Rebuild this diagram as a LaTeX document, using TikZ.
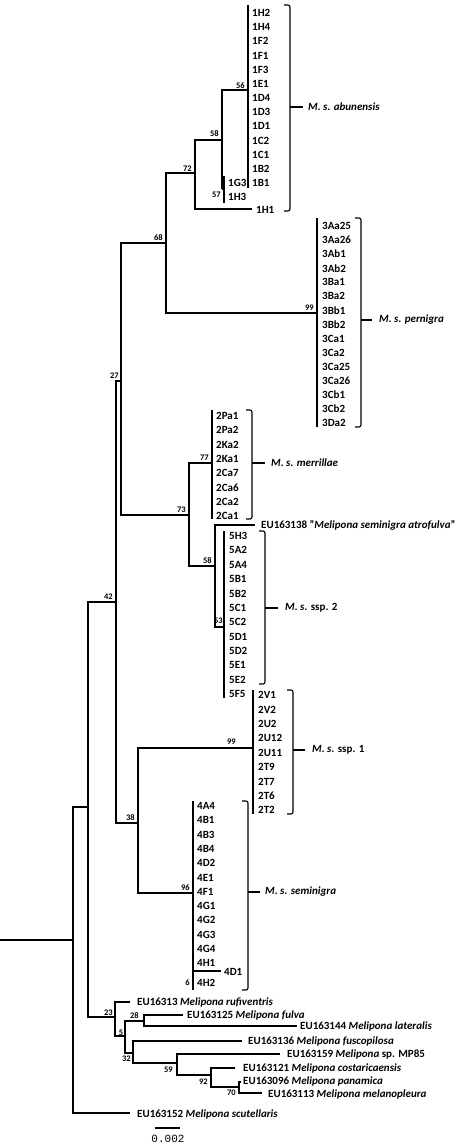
\documentclass[tikz,border=0pt]{standalone}
\usepackage{fontspec}
\setmainfont{Carlito}
\newfontfamily\scalefont{Liberation Mono}
\begin{document}
\begin{tikzpicture}[x=1bp,y=-1bp,
  br/.style={line width=1.1bp},
  thk/.style={line width=1.9bp},
  leaf/.style={anchor=west,inner sep=0pt,font=\fontsize{11bp}{12bp}\selectfont\bfseries},
  sp/.style={anchor=west,inner sep=0pt,font=\fontsize{11bp}{12bp}\selectfont\bfseries},
  clade/.style={anchor=west,inner sep=0pt,font=\fontsize{11bp}{12bp}\selectfont\bfseries\itshape},
  sup/.style={inner sep=0pt,font=\fontsize{8.5bp}{9bp}\selectfont\bfseries},
  brk/.style={line width=1.1bp,rounded corners=2bp}]
\useasboundingbox (0,0) rectangle (474,1145);

% ---------- internal nodes ----------
\coordinate (root) at (73,940);
\coordinate (rootL) at (0,940);

% ---------- M. s. abunensis ----------
\foreach \t [count=\i from 0] in {1H2,1H4,1F2,1F1,1F3,1E1,1D4,1D3,1D1,1C2,1C1,1B2,1B1}
  \node[leaf] (a\t) at (252,{13+14.17*\i}) {\t};
\draw[thk] (248,5) -- (248,188);
\node[leaf] (a1G3) at (228,183) {1G3};
\node[leaf] (a1H3) at (228,197) {1H3};
\draw[thk] (224,176) -- (224,203);
\draw[br] (222,189) -- (224,189);
\draw[br] (248,90) -| (222,189);
\draw[br] (222,140) -| (195,209) -- (252,209);
\node[leaf] (a1H1) at (256,210) {1H1};
\draw[brk] (284,5) -- (290,5) -- (290,211) -- (284,211);
\draw[br] (290,107) -- (303,107);
\node[clade] (abun) at (308,107) {M. s. abunensis};
\node[sup,anchor=south east] at (245,89) {56};
\node[sup,anchor=south east] at (219,137) {58};
\node[sup,anchor=south east] at (221,198) {57};
\node[sup,anchor=south east] at (192,172) {72};

% ---------- M. s. pernigra ----------
\foreach \t [count=\i from 0] in {3Aa25,3Aa26,3Ab1,3Ab2,3Ba1,3Ba2,3Bb1,3Bb2,3Ca1,3Ca2,3Ca25,3Ca26,3Cb1,3Cb2,3Da2}
  \node[leaf] (p\t) at (322,{226+14.07*\i}) {\t};
\draw[thk] (317,218) -- (317,427);
\draw[brk] (355,218) -- (361,218) -- (361,427) -- (355,427);
\draw[br] (361,320) -- (372,320);
\node[clade] (pern) at (379,320) {M. s. pernigra};
\draw[br] (195,173) -| (166,313) -- (317,313);
\node[sup,anchor=south east] at (314,311) {99};
\node[sup,anchor=south east] at (163,241) {68};

% ---------- M. s. merrillae ----------
\foreach \t [count=\i from 0] in {2Pa1,2Pa2,2Ka2,2Ka1,2Ca7,2Ca6,2Ca2,2Ca1}
  \node[leaf] (m\t) at (216,{416+14.29*\i}) {\t};
\draw[thk] (212,410) -- (212,519);
\draw[brk] (246,410) -- (252,410) -- (252,519) -- (246,519);
\draw[br] (252,463) -- (265,463);
\node[clade] (merr) at (271,463) {M. s. merrillae};
\node[sup,anchor=south east] at (209,461) {77};

% ---------- EU163138 and M. s. ssp. 2 ----------
\node[sp] (atro) at (261,525) {EU163138 "\textit{Melipona seminigra atrofulva}"};
\foreach \t [count=\i from 0] in {5H3,5A2,5A4,5B1,5B2,5C1,5C2,5D1,5D2,5E1,5E2,5F5}
  \node[leaf] (s\t) at (229,{536+14.36*\i}) {\t};
\draw[thk] (224,531) -- (224,698);
\draw[thk] (255,525) -| (215,627) -- (224,627);
\draw[brk] (259,531) -- (265,531) -- (265,684) -- (259,684);
\draw[br] (265,608) -- (278,608);
\node[clade] (ssp2) at (285,608) {M. s. \upshape ssp. 2};
\node[sup,anchor=south east] at (212,564) {58};
\node[sup,anchor=east] at (223,621) {53};
\draw[br] (212,463) -| (189,566) -- (215,566);
\node[sup,anchor=south east] at (186,513) {73};

% ---------- M. s. ssp. 1 ----------
\foreach \t [count=\i from 0] in {2V1,2V2,2U2,2U12,2U11,2T9,2T7,2T6,2T2}
  \node[leaf] (u\t) at (258,{695+14.4*\i}) {\t};
\draw[thk] (253,690) -- (253,814);
\draw[brk] (287,690) -- (293,690) -- (293,814) -- (287,814);
\draw[br] (293,750) -- (305,750);
\node[clade] (ssp1) at (312,750) {M. s. \upshape ssp. 1};
\node[sup,anchor=south east] at (236,745) {99};

% ---------- M. s. seminigra ----------
\foreach \t [count=\i from 0] in {4A4,4B1,4B3,4B4,4D2,4E1,4F1,4G1,4G2,4G3,4G4,4H1}
  \node[leaf] (g\t) at (197,{806+14.3*\i}) {\t};
\node[leaf] (g4H2) at (197,983) {4H2};
\node[leaf] (g4D1) at (224,972) {4D1};
\draw[thk] (193,801) -- (193,990);
\draw[br] (193,971) -- (221,971);
\draw[brk] (242,801) -- (248,801) -- (248,990) -- (242,990);
\draw[br] (248,892) -- (260,892);
\node[clade] (semi) at (265,892) {M. s. seminigra};
\node[sup,anchor=south east] at (190,891) {96};
\node[sup,anchor=east] at (190,983) {6};

% ---------- backbone ----------
\draw[br] (253,748) -| (138,893) -- (193,893);
\node[sup,anchor=south east] at (135,821) {38};
\draw[br] (166,243) -| (121,515) -- (189,515);
\node[sup,anchor=south east] at (119,379) {27};
\draw[br] (121,381) -| (116,823) -- (138,823);
\node[sup,anchor=south east] at (113,600) {42};
\draw[br] (116,602) -| (88,1017) -- (115,1017);
\draw[br] (88,807) -| (root) |- (130,1113);
\draw[br] (rootL) -- (root);

% ---------- outgroups ----------
\node[sp] (ruf) at (137,1002) {EU16313 \textit{Melipona rufiventris}};
\node[sp] (ful) at (187,1015) {EU163125 \textit{Melipona fulva}};
\node[sp] (lat) at (300,1026) {EU163144 \textit{Melipona lateralis}};
\node[sp] (fus) at (248,1041) {EU163136 \textit{Melipona fuscopilosa}};
\node[sp] (mp) at (287,1054) {EU163159 \textit{Melipona} sp. MP85};
\node[sp] (cos) at (243,1068) {EU163121 \textit{Melipona costaricaensis}};
\node[sp] (pan) at (243,1081) {EU163096 \textit{Melipona panamica}};
\node[sp] (mel) at (268,1094) {EU163113 \textit{Melipona melanopleura}};
\node[sp] (scu) at (137,1114) {EU163152 \textit{Melipona scutellaris}};

\draw[br] (130,1002) -| (115,1036) -- (125,1036);
\draw[br] (144,1021) -| (125,1053) -- (133,1053);
\draw[br] (183,1015) -| (144,1026) -- (297,1026);
\draw[br] (242,1041) -| (133,1063) -- (177,1063);
\draw[br] (280,1054) -| (177,1075) -- (211,1075);
\draw[br] (235,1068) -| (211,1087) -- (239,1087);
\draw[br] (241,1082) -| (239,1093) -- (262,1093);
\node[sup,anchor=south east] at (113,1016) {23};
\node[sup,anchor=south east] at (139,1019) {28};
\node[sup] at (121,1033) {5};
\node[sup,anchor=north east] at (131,1056) {32};
\node[sup,anchor=north east] at (173,1067) {59};
\node[sup,anchor=north east] at (208,1079) {92};
\node[sup,anchor=north east] at (236,1090) {70};

% ---------- scale ----------
\coordinate (sb1) at (155,1128);
\coordinate (sb2) at (180,1128);
\draw[br] (sb1) -- (sb2);
\node[inner sep=0pt,font=\scalefont\fontsize{11bp}{12bp}\selectfont] (sbl) at (168,1139) {0.002};
\end{tikzpicture}
\end{document}
